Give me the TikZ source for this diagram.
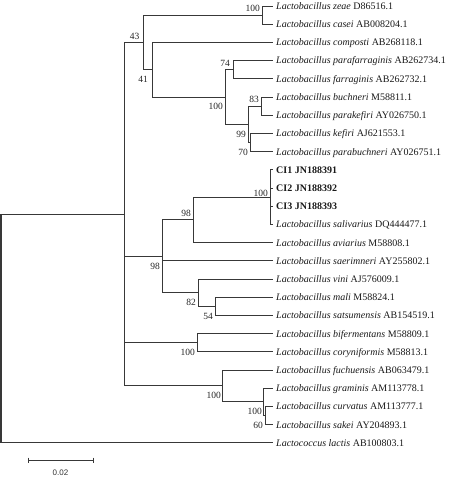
\documentclass[tikz,border=0pt]{standalone}
\usepackage{fontspec}
\setmainfont{Liberation Serif}
\newfontfamily\barfont{Liberation Sans}
\usetikzlibrary{calc}
\begin{document}
\begin{tikzpicture}[x=1pt,y=-1pt,
  br/.style={draw=black!78,line width=0.85pt},
  leaf/.style={anchor=base west,inner sep=0pt,font=\fontsize{10}{12}\selectfont,text=black!90},
  cilab/.style={anchor=base west,inner sep=0pt,font=\fontsize{10}{12}\selectfont\bfseries,text=black!90},
  bs/.style={anchor=base east,inner sep=0pt,font=\fontsize{9.5}{11}\selectfont,text=black!85}]
\useasboundingbox (0,0) rectangle (474,481);

% leaf tips
\foreach \i in {1,...,25}{\coordinate (t\i) at (273,{6+18.2*(\i-1)});}

% internal nodes
\coordinate (R) at (1,328.5);
\coordinate (A) at (124,214.15);
\coordinate (N43) at (143,42.4);
\coordinate (Nzc) at (262,15.1);
\coordinate (N41) at (152,69.7);
\coordinate (N100a) at (225,97);
\coordinate (N74) at (233,69.7);
\coordinate (N99) at (248,124.3);
\coordinate (N83) at (261,106.1);
\coordinate (N70) at (250,142.5);
\coordinate (N98b) at (162,256.25);
\coordinate (N98a) at (193,219.85);
\coordinate (NCI) at (270,197.1);
\coordinate (N82) at (198,292.65);
\coordinate (N54) at (215,306.3);
\coordinate (Nbif) at (197,342.7);
\coordinate (Nfuc) at (222,385.9);
\coordinate (NX) at (263,401.85);
\coordinate (N60) at (265,415.5);

% branches
\draw[br] (R) |- (A);
\draw[br] (R) |- (t25);
\draw[br,line width=1.5pt] (R|-A) -- (R|-t25);
\draw[br] (A) |- (N43);
\draw[br] (A) |- (N98b);
\draw[br] (A) |- (Nbif);
\draw[br] (A) |- (Nfuc);
\draw[br] (N43) |- (Nzc);
\draw[br] (N43) |- (N41);
\draw[br] (Nzc) |- (t1);
\draw[br] (Nzc) |- (t2);
\draw[br] (N41) |- (t3);
\draw[br] (N41) |- (N100a);
\draw[br] (N100a) |- (N74);
\draw[br] (N100a) |- (N99);
\draw[br] (N74) |- (t4);
\draw[br] (N74) |- (t5);
\draw[br] (N99) |- (N83);
\draw[br] (N99) |- (N70);
\draw[br] (N83) |- (t6);
\draw[br] (N83) |- (t7);
\draw[br] (N70) |- (t8);
\draw[br] (N70) |- (t9);
\draw[br] (N98b) |- (N98a);
\draw[br] (N98b) |- (t15);
\draw[br] (N98b) |- (N82);
\draw[br] (N98a) |- (NCI);
\draw[br] (N98a) |- (t14);
\draw[br] (NCI) |- (t10);
\draw[br] (NCI) |- (t11);
\draw[br] (NCI) |- (t12);
\draw[br] (NCI) |- (t13);
\draw[br] (N82) |- (t16);
\draw[br] (N82) |- (N54);
\draw[br] (N54) |- (t17);
\draw[br] (N54) |- (t18);
\draw[br] (Nbif) |- (t19);
\draw[br] (Nbif) |- (t20);
\draw[br] (Nfuc) |- (t21);
\draw[br] (Nfuc) |- (NX);
\draw[br] (NX) |- (t22);
\draw[br] (NX) |- (N60);
\draw[br] (N60) |- (t23);
\draw[br] (N60) |- (t24);

% leaf labels
\node[leaf] (L1) at ($(t1)+(3,3.4)$) {\textit{Lactobacillus zeae} D86516.1};
\node[leaf] (L2) at ($(t2)+(3,3.4)$) {\textit{Lactobacillus casei} AB008204.1};
\node[leaf] (L3) at ($(t3)+(3,3.4)$) {\textit{Lactobacillus composti} AB268118.1};
\node[leaf] (L4) at ($(t4)+(3,3.4)$) {\textit{Lactobacillus parafarraginis} AB262734.1};
\node[leaf] (L5) at ($(t5)+(3,3.4)$) {\textit{Lactobacillus farraginis} AB262732.1};
\node[leaf] (L6) at ($(t6)+(3,3.4)$) {\textit{Lactobacillus buchneri} M58811.1};
\node[leaf] (L7) at ($(t7)+(3,3.4)$) {\textit{Lactobacillus parakefiri} AY026750.1};
\node[leaf] (L8) at ($(t8)+(3,3.4)$) {\textit{Lactobacillus kefiri} AJ621553.1};
\node[leaf] (L9) at ($(t9)+(3,3.4)$) {\textit{Lactobacillus parabuchneri} AY026751.1};
\node[cilab] (L10) at ($(t10)+(3,3.6)$) {CI1 JN188391};
\node[cilab] (L11) at ($(t11)+(3,3.6)$) {CI2 JN188392};
\node[cilab] (L12) at ($(t12)+(3,3.6)$) {CI3 JN188393};
\node[leaf] (L13) at ($(t13)+(3,3.4)$) {\textit{Lactobacillus salivarius} DQ444477.1};
\node[leaf] (L14) at ($(t14)+(3,3.4)$) {\textit{Lactobacillus aviarius} M58808.1};
\node[leaf] (L15) at ($(t15)+(3,3.4)$) {\textit{Lactobacillus saerimneri} AY255802.1};
\node[leaf] (L16) at ($(t16)+(3,3.4)$) {\textit{Lactobacillus vini} AJ576009.1};
\node[leaf] (L17) at ($(t17)+(3,3.4)$) {\textit{Lactobacillus mali} M58824.1};
\node[leaf] (L18) at ($(t18)+(3,3.4)$) {\textit{Lactobacillus satsumensis} AB154519.1};
\node[leaf] (L19) at ($(t19)+(3,3.4)$) {\textit{Lactobacillus bifermentans} M58809.1};
\node[leaf] (L20) at ($(t20)+(3,3.4)$) {\textit{Lactobacillus coryniformis} M58813.1};
\node[leaf] (L21) at ($(t21)+(3,3.4)$) {\textit{Lactobacillus fuchuensis} AB063479.1};
\node[leaf] (L22) at ($(t22)+(3,3.4)$) {\textit{Lactobacillus graminis} AM113778.1};
\node[leaf] (L23) at ($(t23)+(3,3.4)$) {\textit{Lactobacillus curvatus} AM113777.1};
\node[leaf] (L24) at ($(t24)+(3,3.4)$) {\textit{Lactobacillus sakei} AY204893.1};
\node[leaf] (L25) at ($(t25)+(3,3.4)$) {\textit{Lactococcus lactis} AB100803.1};

% bootstrap values
\node[bs] (bzc) at ($(Nzc)+(-2,-3.2)$) {100};
\node[bs] (b43) at ($(N43)+(-3.5,-3.2)$) {43};
\node[bs] (b74) at ($(N74)+(-3,-3.2)$) {74};
\node[bs] (b83) at ($(N83)+(-2,-3.2)$) {83};
\node[bs] (bCI) at ($(NCI)+(-2,-0.8)$) {100};
\node[bs] (b98a) at ($(N98a)+(-2,-3.2)$) {98};
\node[bs] (b41) at ($(N41)+(-4,12.8)$) {41};
\node[bs] (b100a) at ($(N100a)+(-2,12.8)$) {100};
\node[bs] (b99) at ($(N99)+(-2,12.8)$) {99};
\node[bs] (b70) at ($(N70)+(-2,12.8)$) {70};
\node[bs] (b98b) at ($(N98b)+(-2,12.8)$) {98};
\node[bs] (b82) at ($(N82)+(-2,12.8)$) {82};
\node[bs] (b54) at ($(N54)+(-2,12.8)$) {54};
\node[bs] (bbif) at ($(Nbif)+(-2,12.8)$) {100};
\node[bs] (bfuc) at ($(Nfuc)+(-1,12.8)$) {100};
\node[bs] (bX) at ($(NX)+(-1,12.8)$) {100};
\node[bs] (b60) at ($(N60)+(-2,12.8)$) {60};

% scale bar
\coordinate (sb1) at (28,460);
\coordinate (sb2) at (93,460);
\draw[br] (sb1) -- (sb2);
\draw[br] ($(sb1)+(0,-2.5)$) -- ($(sb1)+(0,2.5)$);
\draw[br] ($(sb2)+(0,-2.5)$) -- ($(sb2)+(0,2.5)$);
\node[anchor=base,inner sep=0pt,font=\barfont\fontsize{8}{9}\selectfont,text=black!80] (sbl) at ($(sb1)!0.5!(sb2)+(0,15)$) {0.02};
\end{tikzpicture}
\end{document}
